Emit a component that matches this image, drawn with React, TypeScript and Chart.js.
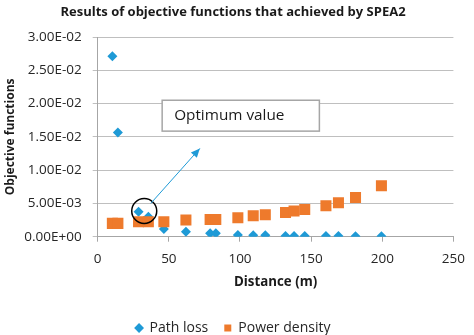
import React, { useEffect, useRef } from "react";
import { Chart, registerables } from "chart.js";

Chart.register(...registerables);

// ---- data ----
const distances = [10.3, 14.2, 28.7, 35.6, 46.5, 62, 79, 83, 98.5, 109.3, 117.8, 132, 138, 145.5, 160.4, 169.2, 181.2, 199.4];
const pathLoss = [0.0271, 0.01566, 0.00375, 0.003, 0.00115, 0.00075, 0.0005, 0.0005, 0.00025, 0.0002, 0.0002, 0.0001, 0.0001, 0.0001, 0.0001, 0.0001, 0.00008, 0.00008];
const powerDensity = [0.002, 0.002, 0.00225, 0.00225, 0.00225, 0.0025, 0.0026, 0.0026, 0.00285, 0.00315, 0.0033, 0.00365, 0.00385, 0.0041, 0.00465, 0.0051, 0.0059, 0.00765];
const seriesNames = ["Path loss", "Power density"];
const titleText = "Results of objective functions that achieved by SPEA2";
const xTitle = "Distance (m)";
const yTitle = "Objective functions";
const annotationText = "Optimum value";
// annotation anchors in data units
const circleAt = { x: 32.7, y: 0.00386 };
const arrowFrom = { x: 37.3, y: 0.005 };
const arrowTo = { x: 71.8, y: 0.01326 };
const boxFrom = { x: 45.3, y: 0.0205 };
const boxTo = { x: 155.8, y: 0.01586 };

const W = 474;
const H = 335;
const LEFT_PAD = 7;
const BOTTOM_PAD = -10;
const FONT = "'Open Sans', sans-serif";
const BLUE = "#1E9AD6";
const ORANGE = "#EE7A2C";

function fmtExp(v: number): string {
  if (Math.abs(v) < 1e-12) return "0.00E+00";
  const [m, e] = v.toExponential(2).split("e");
  const n = parseInt(e, 10);
  return m + "E" + (n < 0 ? "-" : "+") + String(Math.abs(n)).padStart(2, "0");
}

const annotationPlugin = {
  id: "optimumAnnotation",
  afterDatasetsDraw(chart: any) {
    const { ctx, scales } = chart;
    const xs = scales.x;
    const ys = scales.y;
    const px = (x: number) => xs.getPixelForValue(x);
    const py = (y: number) => ys.getPixelForValue(y);
    ctx.save();
    // circle
    ctx.beginPath();
    ctx.strokeStyle = "#000";
    ctx.lineWidth = 1.5;
    ctx.arc(px(circleAt.x), py(circleAt.y), 12.5, 0, Math.PI * 2);
    ctx.stroke();
    // arrow
    const x1 = px(arrowFrom.x), y1 = py(arrowFrom.y);
    const x2 = px(arrowTo.x), y2 = py(arrowTo.y);
    ctx.strokeStyle = BLUE;
    ctx.fillStyle = BLUE;
    ctx.lineWidth = 1;
    ctx.beginPath();
    ctx.moveTo(x1, y1);
    ctx.lineTo(x2, y2);
    ctx.stroke();
    const ang = Math.atan2(y2 - y1, x2 - x1);
    const hl = 9, hw = 4;
    ctx.beginPath();
    ctx.moveTo(x2, y2);
    ctx.lineTo(x2 - hl * Math.cos(ang) + hw * Math.sin(ang), y2 - hl * Math.sin(ang) - hw * Math.cos(ang));
    ctx.lineTo(x2 - hl * Math.cos(ang) - hw * Math.sin(ang), y2 - hl * Math.sin(ang) + hw * Math.cos(ang));
    ctx.closePath();
    ctx.fill();
    // box
    const bx1 = px(boxFrom.x), by1 = py(boxFrom.y);
    const bx2 = px(boxTo.x), by2 = py(boxTo.y);
    ctx.fillStyle = "#fff";
    ctx.fillRect(bx1, by1, bx2 - bx1, by2 - by1);
    ctx.strokeStyle = "#A6A6A6";
    ctx.lineWidth = 1.5;
    ctx.strokeRect(bx1, by1, bx2 - bx1, by2 - by1);
    ctx.fillStyle = "#1a1a1a";
    ctx.font = `15.3px ${FONT}`;
    ctx.textBaseline = "middle";
    ctx.textAlign = "left";
    ctx.fillText(annotationText, bx1 + 12, (by1 + by2) / 2);
    ctx.restore();
  },
};

export default function App() {
  const ref = useRef<HTMLCanvasElement | null>(null);
  useEffect(() => {
    if (!ref.current) return;
    const chart = new Chart(ref.current, {
      type: "scatter",
      data: {
        datasets: [
          {
            label: seriesNames[0],
            data: distances.map((x, i) => ({ x, y: pathLoss[i] })),
            pointStyle: "rectRot",
            pointRadius: 5,
            backgroundColor: BLUE,
            borderColor: BLUE,
            borderWidth: 0,
            order: 2,
          },
          {
            label: seriesNames[1],
            data: distances.map((x, i) => ({ x, y: powerDensity[i] })),
            pointStyle: "rect",
            pointRadius: 7.8,
            backgroundColor: ORANGE,
            borderColor: ORANGE,
            borderWidth: 0,
            order: 1,
          },
        ],
      },
      options: {
        responsive: false,
        animation: false,
        layout: { padding: { left: LEFT_PAD, right: 15, top: 0, bottom: BOTTOM_PAD } },
        plugins: {
          title: {
            display: true,
            text: titleText,
            color: "#1a1a1a",
            font: { family: FONT, size: 13, weight: "bold" },
            padding: { top: 4, bottom: 17.4 },
          },
          legend: {
            position: "bottom",
            labels: {
              usePointStyle: true,
              boxWidth: 7,
              boxHeight: 7,
              padding: 16,
              color: "#262626",
              font: { family: FONT, size: 14 },
              sort: (a: any, b: any) => a.datasetIndex - b.datasetIndex,
            },
          },
          tooltip: { enabled: false },
        },
        scales: {
          x: {
            type: "linear",
            min: 0,
            max: 250,
            ticks: {
              stepSize: 50,
              padding: 9,
              color: "#262626",
              font: { family: FONT, size: 13.5 },
            },
            grid: { drawOnChartArea: false, drawTicks: true, tickLength: 5, color: "#A6A6A6" },
            border: { display: true, color: "#A6A6A6" },
            title: {
              display: true,
              text: xTitle,
              color: "#1a1a1a",
              font: { family: FONT, size: 13.3, weight: "bold" },
              padding: { top: 4, bottom: 14.5 },
            },
            afterFit: (s: any) => {
              const lh = s.chart.legend ? s.chart.legend.height : 0;
              s.height = H - 236.7 - lh - BOTTOM_PAD;
            },
          },
          y: {
            type: "linear",
            min: 0,
            max: 0.03,
            ticks: {
              stepSize: 0.005,
              padding: 11,
              color: "#262626",
              font: { family: FONT, size: 13.5 },
              callback: (v: any) => fmtExp(Number(v)),
            },
            grid: { drawOnChartArea: true, drawTicks: true, tickLength: 5, color: "#BFBFBF" },
            border: { display: true, color: "#A6A6A6" },
            title: {
              display: true,
              text: yTitle,
              color: "#1a1a1a",
              font: { family: FONT, size: 12, weight: "bold" },
              padding: { top: 3 - LEFT_PAD, bottom: 2 },
            },
            afterFit: (s: any) => {
              s.width = 97.7 - LEFT_PAD;
            },
          },
        },
      },
      plugins: [annotationPlugin],
    });
    return () => chart.destroy();
  }, []);
  return (
    <div style={{ position: "absolute", left: 0, top: 0, width: W, height: H, background: "#fff" }}>
      <canvas ref={ref} width={W} height={H} />
    </div>
  );
}
